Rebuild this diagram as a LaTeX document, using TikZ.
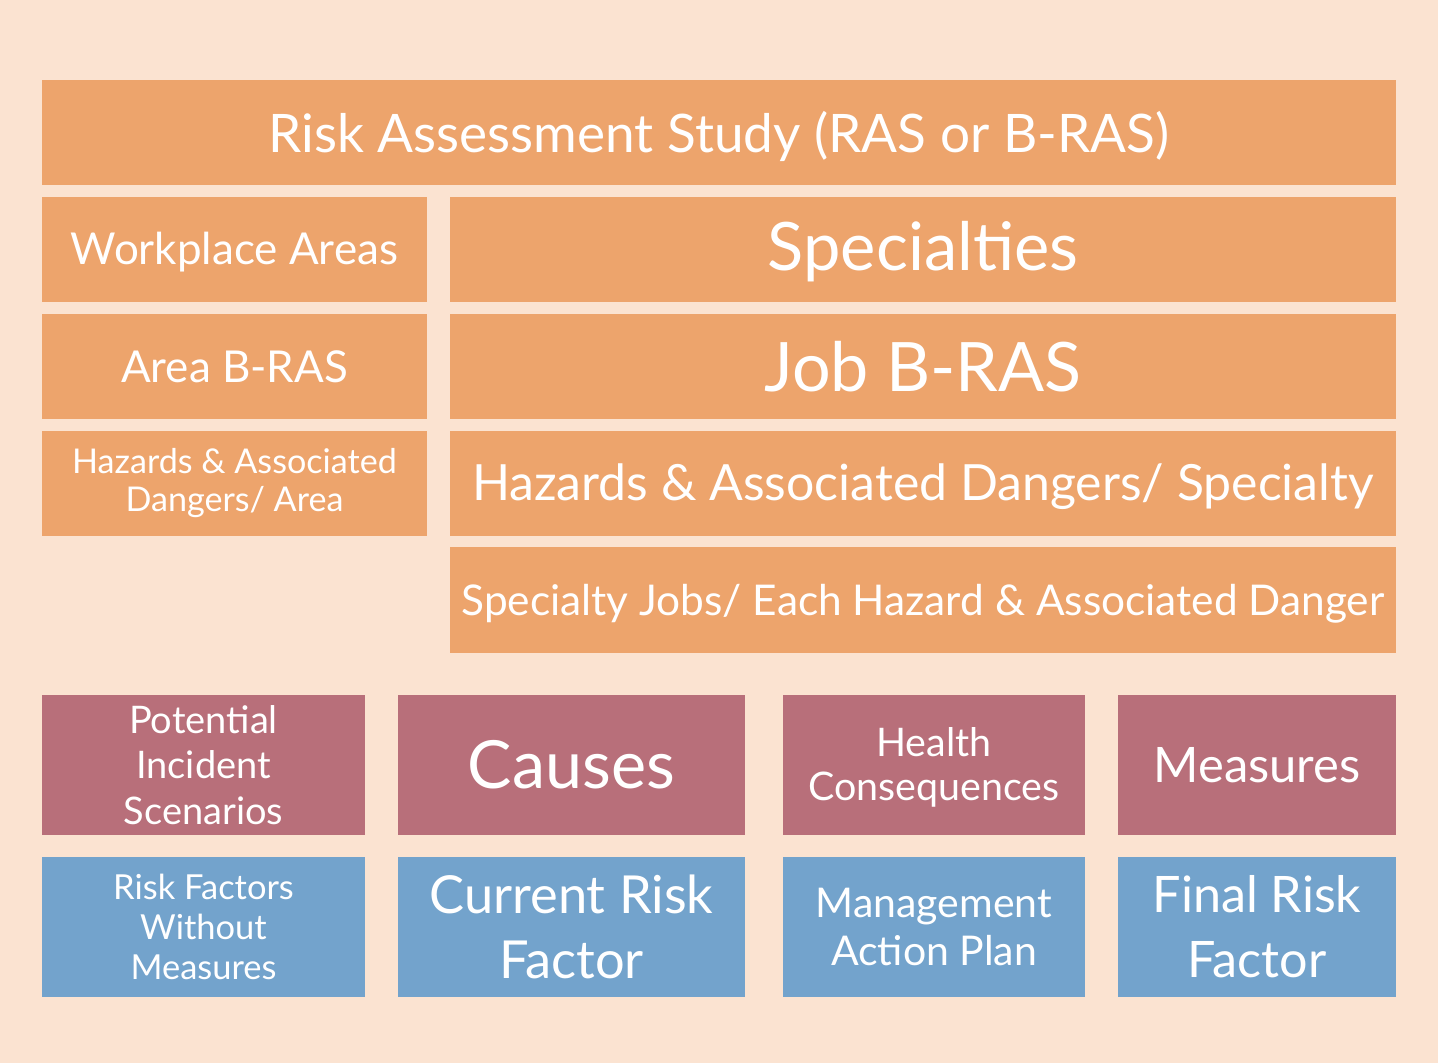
\documentclass[tikz,border=0pt]{standalone}
\usepackage{fontspec}
\setmainfont{Lato}
\definecolor{bg}{HTML}{FBE3D1}
\definecolor{org}{HTML}{EDA46C}
\definecolor{pnk}{HTML}{B86F7A}
\definecolor{blu}{HTML}{73A3CC}
\newcommand{\fs}[2]{\fontsize{#1}{#2}\selectfont}
\newcommand{\dn}[2]{\raisebox{-#1}[\height][\depth]{#2}}
\begin{document}
\begin{tikzpicture}[x=0.01cm,y=0.01cm,
  box/.style={inner sep=0pt,outer sep=0pt,text=white,align=center},
  obox/.style={box,fill=org},
  pbox/.style={box,fill=pnk},
  bbox/.style={box,fill=blu}]
\fill[bg] (0,0) rectangle (1438,-1063);
\useasboundingbox (0,0) rectangle (1438,-1063);
% orange
\node[obox,minimum width=13.54cm,minimum height=1.05cm,font=\fs{15.1}{18}] (ras) at (719,-132.5) {\dn{1pt}{Risk Assessment Study (RAS or B-RAS)}};
\node[obox,minimum width=3.85cm,minimum height=1.05cm,font=\fs{12.5}{15}] (wa) at (234.5,-249.5) {\dn{0.8pt}{Workplace Areas}};
\node[obox,minimum width=9.46cm,minimum height=1.05cm,font=\fs{19}{23}] (spec) at (923,-249.5) {\dn{0.6pt}{Specialties}};
\node[obox,minimum width=3.85cm,minimum height=1.05cm,font=\fs{12.5}{15}] (area) at (234.5,-366.5) {Area B-RAS};
\node[obox,minimum width=9.46cm,minimum height=1.05cm,font=\fs{19.4}{23}] (job) at (923,-366.5) {Job B-RAS};
\node[obox,minimum width=3.85cm,minimum height=1.05cm,font=\fs{9.7}{10.8}] (haza) at (234.5,-483.5) {Hazards \& Associated\\Dangers/ Area};
\node[obox,minimum width=9.46cm,minimum height=1.05cm,font=\fs{14.2}{17}] (hazs) at (923,-483.5) {\dn{1pt}{Hazards \& Associated Dangers/ Specialty}};
\node[obox,minimum width=9.46cm,minimum height=1.06cm,font=\fs{12.05}{14}] (sj) at (923,-600) {\dn{1pt}{Specialty Jobs/ Each Hazard \& Associated Danger}};
% pink
\node[pbox,minimum width=3.23cm,minimum height=1.4cm,font=\fs{10.8}{12.9}] (pis) at (203.5,-765) {Potential\\Incident\\Scenarios};
\node[pbox,minimum width=3.47cm,minimum height=1.4cm,font=\fs{18.9}{22}] (cau) at (571.5,-765) {Causes};
\node[pbox,minimum width=3.02cm,minimum height=1.4cm,font=\fs{11.2}{12.4}] (hc) at (934,-765) {\dn{1.3pt}{\begin{tabular}{@{}c@{}}Health\\Consequences\end{tabular}}};
\node[pbox,minimum width=2.78cm,minimum height=1.4cm,font=\fs{13.9}{16}] (mea) at (1257,-765) {Measures};
% blue
\node[bbox,minimum width=3.23cm,minimum height=1.4cm,font=\fs{9.8}{11.4}] (rf) at (203.5,-927) {Risk Factors\\Without\\Measures};
\node[bbox,minimum width=3.47cm,minimum height=1.4cm,font=\fs{14.9}{18.5}] (crf) at (571.5,-927) {Current Risk\\Factor};
\node[bbox,minimum width=3.02cm,minimum height=1.4cm,font=\fs{11.65}{13.7}] (map) at (934,-927) {Management\\Action Plan};
\node[bbox,minimum width=2.78cm,minimum height=1.4cm,font=\fs{14.3}{18.5}] (frf) at (1257,-927) {Final Risk\\Factor};
\end{tikzpicture}
\end{document}
